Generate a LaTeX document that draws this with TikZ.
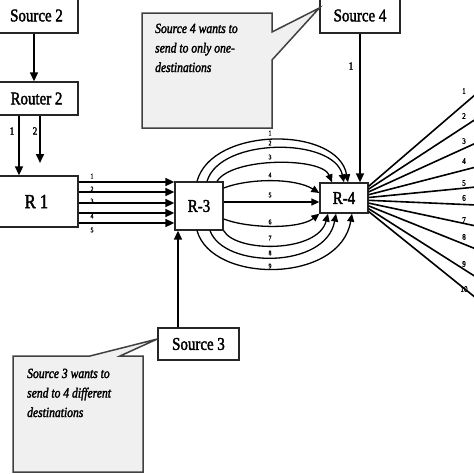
\documentclass[tikz,border=0pt]{standalone}
\usepackage{fontspec}
\setmainfont{Liberation Serif}[FakeStretch=0.83,FakeBold=2]
\usetikzlibrary{arrows.meta,calc}
\begin{document}
\begin{tikzpicture}[x=1pt,y=-1pt,
 box/.style={draw=black!85,line width=1.3pt,fill=white,inner sep=0pt,font=\fontsize{18}{18}\selectfont},
 ln/.style={line width=1.6pt},
 arr/.style={ln,-{Triangle[width=8pt,length=9pt]}},
 sarr/.style={line width=1.3pt,-{Triangle[width=7pt,length=8pt]}},
 callout/.style={draw=black!75,line width=1.5pt,fill=black!6,line join=miter},
 ctext/.style={font=\fontsize{14}{19.5}\selectfont\itshape,align=left,anchor=base west,inner sep=0pt},
 lab/.style={font=\fontsize{7}{7}\selectfont,inner sep=0pt},
 mlab/.style={font=\fontsize{11}{11}\selectfont,inner sep=0pt},
 flab/.style={font=\fontsize{8.5}{8.5}\selectfont,inner sep=0pt},
]
\useasboundingbox (0,0) rectangle (474,474);
% nodes
\node[box,minimum width=83pt,minimum height=35pt] (s2) at (36.5,15.5) {Source 2};
\node[box,minimum width=83pt,minimum height=33pt] (r2) at (36.5,98.5) {Router 2};
\node[box,minimum width=83pt,minimum height=51pt,font=\fontsize{20}{20}\selectfont] (r1) at (36.5,201.5) {R 1};
\node[box,minimum width=48pt,minimum height=48pt] (r3) at (199,206) {R-3};
\node[box,minimum width=48pt,minimum height=30pt] (r4) at (344,198) {R-4};
\node[box,minimum width=81pt,minimum height=32pt] (s3) at (198.5,344) {Source 3};
\node[box,minimum width=80pt,minimum height=35pt] (s4) at (360,15.5) {Source 4};
% callouts
\draw[callout] (142,13) -- (272,13) -- (272,32) -- (s4.west |- 0,8) -- (272,60) -- (272,128) -- (142,128) -- cycle;
\node[ctext] (c4) at (155,72) {Source 4 wants to\\send to only one-\\destinations};
\draw[callout] (13,356) -- (90,356) -- (s3.west |- 0,339) -- (120,356) -- (143,356) -- (143,472) -- (13,472) -- cycle;
\node[ctext] (c3) at (27,417) {Source 3 wants to\\send to 4 different\\destinations};
% left chain
\draw[arr] (s2.south -| 34,0) -- (r2.north -| 34,0);
\draw[arr] (r2.south -| 19,0) -- (r1.north -| 19,0);
\coordinate (e2) at (40,163);
\draw[arr] (r2.south -| 40,0) -- (e2);
\node[mlab] (l1) at (12,131) {1};
\node[mlab] (l2) at (35,131) {2};
% R1 -> R3
\foreach \y in {182,192,203,213,223}
  \draw[arr] (r1.east |- 0,\y) -- (r3.west |- 0,\y);
\foreach \n/\y in {1/176,2/189,3/201,4/216,5/230}
  \node[lab] (ra\n) at (92,\y) {\n};
% Source 3 -> R3, Source 4 -> R4
\draw[arr] (s3.north -| 178,0) -- (r3.south -| 178,0);
\draw[arr] (s4.south) -- (r4.north -| 360,0);
\node[mlab] (l41) at (351,66) {1};
% R3 -> R4 arcs
\draw[sarr] (r3.north -| 197,0) .. controls (212,126) and (338,126) .. (r4.north -| 348,0);
\draw[sarr] (r3.north -| 207,0) .. controls (220,137) and (334,137) .. (r4.north -| 344,0);
\draw[sarr] (r3.north -| 217,0) .. controls (232,157) and (322,157) .. (r4.north -| 332,0);
\draw[sarr] (r3.east |- 0,188) .. controls (250,178) and (295,178) .. (r4.west |- 0,193);
\draw[sarr] (r3.east |- 0,202) -- (r4.west |- 0,202);
\draw[sarr] (r3.east |- 0,219) .. controls (250,229) and (300,229) .. (r4.south west);
\draw[sarr] (r3.south east) .. controls (236,253) and (318,253) .. (r4.south -| 328,0);
\draw[sarr] (r3.south -| 210,0) .. controls (224,269) and (326,269) .. (r4.south -| 336,0);
\draw[sarr] (r3.south -| 197,0) .. controls (212,284) and (340,284) .. (r4.south -| 352,0);
\foreach \n/\y in {1/133,2/143,3/157,4/175,5/195,6/222,7/238,8/253,9/266}
  \node[lab] (al\n) at (270,\y) {\n};
% fan out of R4
\foreach \i/\ye/\yl in {1/94/91,2/119/116,3/143/141,4/167/161,5/187/183,6/205/198,7/226/220,8/249/237,9/277/264,10/298/289} {
  \pgfmathsetmacro\ys{183.5+\i*2.8}
  \coordinate (f\i) at (476,\ye);
  \draw[ln] (r4.east |- 0,\ys) -- (f\i);
  \node[flab] (fl\i) at (464,\yl) {\i};
}
\end{tikzpicture}
\end{document}
